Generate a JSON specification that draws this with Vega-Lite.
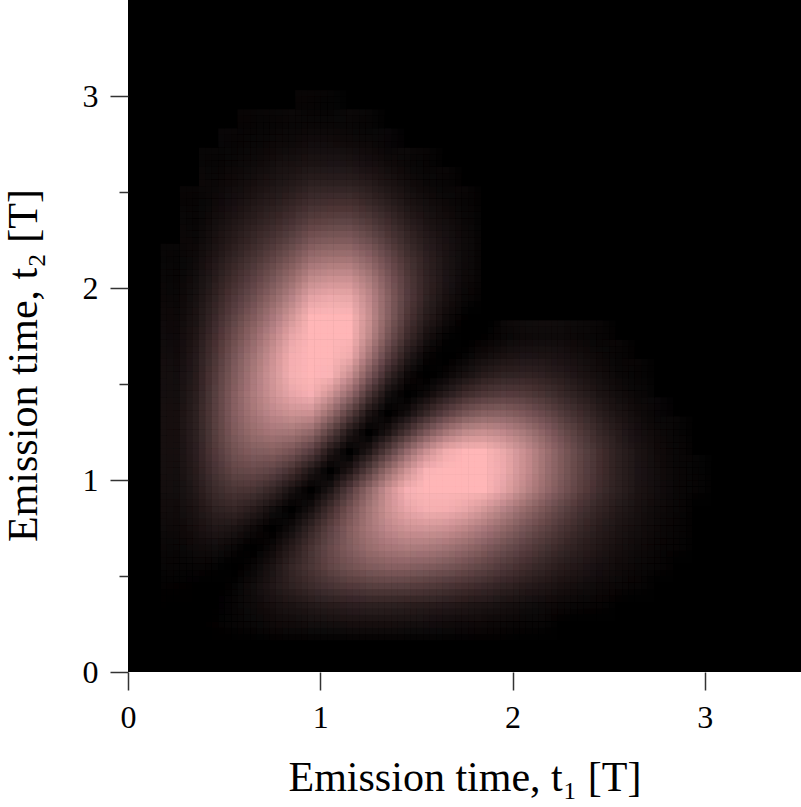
{
  "$schema": "https://vega.github.io/schema/vega-lite/v6.json",
  "width": 673,
  "height": 672,
  "autosize": "none",
  "padding": {"left": 128, "top": 0, "right": 0, "bottom": 135},
  "background": "white",
  "data": {
    "values": [
      {"t1":0.2,"t2":0.2,"p":0},{"t1":0.3,"t2":0.3,"p":0},{"t1":0.4,"t2":0.4,"p":0},{"t1":0.5,"t2":0.5,"p":0},{"t1":0.6,"t2":0.6,"p":0},{"t1":0.7,"t2":0.7,"p":0},{"t1":0.8,"t2":0.8,"p":0},{"t1":0.9,"t2":0.9,"p":0},{"t1":1.0,"t2":1.0,"p":0},{"t1":1.1,"t2":1.1,"p":0},{"t1":1.2,"t2":1.2,"p":0},{"t1":1.3,"t2":1.3,"p":0},{"t1":1.4,"t2":1.4,"p":0},{"t1":1.5,"t2":1.5,"p":0},{"t1":1.6,"t2":1.6,"p":0},{"t1":1.7,"t2":1.7,"p":0},{"t1":1.8,"t2":1.8,"p":0},
      {"t1":0.2,"t2":0.3,"p":0.006},{"t1":0.2,"t2":0.4,"p":0.016},{"t1":0.2,"t2":0.5,"p":0.027},{"t1":0.2,"t2":0.6,"p":0.039},{"t1":0.2,"t2":0.7,"p":0.051},{"t1":0.2,"t2":0.8,"p":0.061},{"t1":0.2,"t2":0.9,"p":0.070},{"t1":0.2,"t2":1.0,"p":0.076},{"t1":0.2,"t2":1.1,"p":0.079},{"t1":0.2,"t2":1.2,"p":0.080},{"t1":0.2,"t2":1.3,"p":0.078},{"t1":0.2,"t2":1.4,"p":0.074},{"t1":0.2,"t2":1.5,"p":0.069},{"t1":0.2,"t2":1.6,"p":0.062},{"t1":0.2,"t2":1.7,"p":0.055},{"t1":0.2,"t2":1.8,"p":0.047},{"t1":0.2,"t2":1.9,"p":0.040},{"t1":0.2,"t2":2.0,"p":0.033},{"t1":0.2,"t2":2.1,"p":0.027},
      {"t1":0.3,"t2":0.4,"p":0.012},{"t1":0.3,"t2":0.5,"p":0.032},{"t1":0.3,"t2":0.6,"p":0.057},{"t1":0.3,"t2":0.7,"p":0.082},{"t1":0.3,"t2":0.8,"p":0.107},{"t1":0.3,"t2":0.9,"p":0.128},{"t1":0.3,"t2":1.0,"p":0.144},{"t1":0.3,"t2":1.1,"p":0.155},{"t1":0.3,"t2":1.2,"p":0.160},{"t1":0.3,"t2":1.3,"p":0.159},{"t1":0.3,"t2":1.4,"p":0.153},{"t1":0.3,"t2":1.5,"p":0.143},{"t1":0.3,"t2":1.6,"p":0.131},{"t1":0.3,"t2":1.7,"p":0.116},{"t1":0.3,"t2":1.8,"p":0.100},{"t1":0.3,"t2":1.9,"p":0.085},{"t1":0.3,"t2":2.0,"p":0.070},{"t1":0.3,"t2":2.1,"p":0.057},{"t1":0.3,"t2":2.2,"p":0.045},{"t1":0.3,"t2":2.3,"p":0.035},{"t1":0.3,"t2":2.4,"p":0.026},
      {"t1":0.4,"t2":0.5,"p":0.024},{"t1":0.4,"t2":0.6,"p":0.066},{"t1":0.4,"t2":0.7,"p":0.117},{"t1":0.4,"t2":0.8,"p":0.168},{"t1":0.4,"t2":0.9,"p":0.215},{"t1":0.4,"t2":1.0,"p":0.256},{"t1":0.4,"t2":1.1,"p":0.286},{"t1":0.4,"t2":1.2,"p":0.304},{"t1":0.4,"t2":1.3,"p":0.310},{"t1":0.4,"t2":1.4,"p":0.304},{"t1":0.4,"t2":1.5,"p":0.289},{"t1":0.4,"t2":1.6,"p":0.266},{"t1":0.4,"t2":1.7,"p":0.238},{"t1":0.4,"t2":1.8,"p":0.207},{"t1":0.4,"t2":1.9,"p":0.175},{"t1":0.4,"t2":2.0,"p":0.145},{"t1":0.4,"t2":2.1,"p":0.117},{"t1":0.4,"t2":2.2,"p":0.092},{"t1":0.4,"t2":2.3,"p":0.071},{"t1":0.4,"t2":2.4,"p":0.053},{"t1":0.4,"t2":2.5,"p":0.040},{"t1":0.4,"t2":2.6,"p":0.028},
      {"t1":0.5,"t2":0.6,"p":0.039},{"t1":0.5,"t2":0.7,"p":0.107},{"t1":0.5,"t2":0.8,"p":0.187},{"t1":0.5,"t2":0.9,"p":0.267},{"t1":0.5,"t2":1.0,"p":0.342},{"t1":0.5,"t2":1.1,"p":0.402},{"t1":0.5,"t2":1.2,"p":0.444},{"t1":0.5,"t2":1.3,"p":0.466},{"t1":0.5,"t2":1.4,"p":0.468},{"t1":0.5,"t2":1.5,"p":0.453},{"t1":0.5,"t2":1.6,"p":0.422},{"t1":0.5,"t2":1.7,"p":0.381},{"t1":0.5,"t2":1.8,"p":0.334},{"t1":0.5,"t2":1.9,"p":0.284},{"t1":0.5,"t2":2.0,"p":0.235},{"t1":0.5,"t2":2.1,"p":0.189},{"t1":0.5,"t2":2.2,"p":0.149},{"t1":0.5,"t2":2.3,"p":0.113},{"t1":0.5,"t2":2.4,"p":0.084},{"t1":0.5,"t2":2.5,"p":0.062},{"t1":0.5,"t2":2.6,"p":0.044},{"t1":0.5,"t2":2.7,"p":0.031},
      {"t1":0.6,"t2":0.7,"p":0.054},{"t1":0.6,"t2":0.8,"p":0.146},{"t1":0.6,"t2":0.9,"p":0.254},{"t1":0.6,"t2":1.0,"p":0.361},{"t1":0.6,"t2":1.1,"p":0.456},{"t1":0.6,"t2":1.2,"p":0.530},{"t1":0.6,"t2":1.3,"p":0.579},{"t1":0.6,"t2":1.4,"p":0.599},{"t1":0.6,"t2":1.5,"p":0.592},{"t1":0.6,"t2":1.6,"p":0.562},{"t1":0.6,"t2":1.7,"p":0.514},{"t1":0.6,"t2":1.8,"p":0.454},{"t1":0.6,"t2":1.9,"p":0.388},{"t1":0.6,"t2":2.0,"p":0.322},{"t1":0.6,"t2":2.1,"p":0.259},{"t1":0.6,"t2":2.2,"p":0.202},{"t1":0.6,"t2":2.3,"p":0.154},{"t1":0.6,"t2":2.4,"p":0.114},{"t1":0.6,"t2":2.5,"p":0.082},{"t1":0.6,"t2":2.6,"p":0.057},{"t1":0.6,"t2":2.7,"p":0.039},{"t1":0.6,"t2":2.8,"p":0.026},
      {"t1":0.7,"t2":0.8,"p":0.070},{"t1":0.7,"t2":0.9,"p":0.190},{"t1":0.7,"t2":1.0,"p":0.327},{"t1":0.7,"t2":1.1,"p":0.463},{"t1":0.7,"t2":1.2,"p":0.579},{"t1":0.7,"t2":1.3,"p":0.666},{"t1":0.7,"t2":1.4,"p":0.717},{"t1":0.7,"t2":1.5,"p":0.729},{"t1":0.7,"t2":1.6,"p":0.708},{"t1":0.7,"t2":1.7,"p":0.658},{"t1":0.7,"t2":1.8,"p":0.588},{"t1":0.7,"t2":1.9,"p":0.506},{"t1":0.7,"t2":2.0,"p":0.421},{"t1":0.7,"t2":2.1,"p":0.339},{"t1":0.7,"t2":2.2,"p":0.264},{"t1":0.7,"t2":2.3,"p":0.200},{"t1":0.7,"t2":2.4,"p":0.146},{"t1":0.7,"t2":2.5,"p":0.104},{"t1":0.7,"t2":2.6,"p":0.072},{"t1":0.7,"t2":2.7,"p":0.048},{"t1":0.7,"t2":2.8,"p":0.032},
      {"t1":0.8,"t2":0.9,"p":0.086},{"t1":0.8,"t2":1.0,"p":0.239},{"t1":0.8,"t2":1.1,"p":0.411},{"t1":0.8,"t2":1.2,"p":0.574},{"t1":0.8,"t2":1.3,"p":0.711},{"t1":0.8,"t2":1.4,"p":0.808},{"t1":0.8,"t2":1.5,"p":0.854},{"t1":0.8,"t2":1.6,"p":0.853},{"t1":0.8,"t2":1.7,"p":0.811},{"t1":0.8,"t2":1.8,"p":0.734},{"t1":0.8,"t2":1.9,"p":0.640},{"t1":0.8,"t2":2.0,"p":0.535},{"t1":0.8,"t2":2.1,"p":0.431},{"t1":0.8,"t2":2.2,"p":0.336},{"t1":0.8,"t2":2.3,"p":0.252},{"t1":0.8,"t2":2.4,"p":0.183},{"t1":0.8,"t2":2.5,"p":0.129},{"t1":0.8,"t2":2.6,"p":0.088},{"t1":0.8,"t2":2.7,"p":0.058},{"t1":0.8,"t2":2.8,"p":0.037},
      {"t1":0.9,"t2":1.0,"p":0.111},{"t1":0.9,"t2":1.1,"p":0.299},{"t1":0.9,"t2":1.2,"p":0.509},{"t1":0.9,"t2":1.3,"p":0.706},{"t1":0.9,"t2":1.4,"p":0.863},{"t1":0.9,"t2":1.5,"p":0.963},{"t1":0.9,"t2":1.6,"p":1.0},{"t1":0.9,"t2":1.7,"p":0.976},{"t1":0.9,"t2":1.8,"p":0.904},{"t1":0.9,"t2":1.9,"p":0.798},{"t1":0.9,"t2":2.0,"p":0.672},{"t1":0.9,"t2":2.1,"p":0.544},{"t1":0.9,"t2":2.2,"p":0.423},{"t1":0.9,"t2":2.3,"p":0.317},{"t1":0.9,"t2":2.4,"p":0.228},{"t1":0.9,"t2":2.5,"p":0.158},{"t1":0.9,"t2":2.6,"p":0.106},{"t1":0.9,"t2":2.7,"p":0.069},{"t1":0.9,"t2":2.8,"p":0.043},{"t1":0.9,"t2":2.9,"p":0.026},
      {"t1":1.0,"t2":1.1,"p":0.116},{"t1":1.0,"t2":1.2,"p":0.312},{"t1":1.0,"t2":1.3,"p":0.529},{"t1":1.0,"t2":1.4,"p":0.724},{"t1":1.0,"t2":1.5,"p":0.871},{"t1":1.0,"t2":1.6,"p":0.954},{"t1":1.0,"t2":1.7,"p":0.967},{"t1":1.0,"t2":1.8,"p":0.921},{"t1":1.0,"t2":1.9,"p":0.827},{"t1":1.0,"t2":2.0,"p":0.706},{"t1":1.0,"t2":2.1,"p":0.575},{"t1":1.0,"t2":2.2,"p":0.446},{"t1":1.0,"t2":2.3,"p":0.330},{"t1":1.0,"t2":2.4,"p":0.237},{"t1":1.0,"t2":2.5,"p":0.159},{"t1":1.0,"t2":2.6,"p":0.108},{"t1":1.0,"t2":2.7,"p":0.068},{"t1":1.0,"t2":2.8,"p":0.041},{"t1":1.0,"t2":2.9,"p":0.024},
      {"t1":1.1,"t2":1.2,"p":0.118},{"t1":1.1,"t2":1.3,"p":0.314},{"t1":1.1,"t2":1.4,"p":0.526},{"t1":1.1,"t2":1.5,"p":0.709},{"t1":1.1,"t2":1.6,"p":0.837},{"t1":1.1,"t2":1.7,"p":0.896},{"t1":1.1,"t2":1.8,"p":0.887},{"t1":1.1,"t2":1.9,"p":0.816},{"t1":1.1,"t2":2.0,"p":0.709},{"t1":1.1,"t2":2.1,"p":0.581},{"t1":1.1,"t2":2.2,"p":0.453},{"t1":1.1,"t2":2.3,"p":0.336},{"t1":1.1,"t2":2.4,"p":0.239},{"t1":1.1,"t2":2.5,"p":0.159},{"t1":1.1,"t2":2.6,"p":0.104},{"t1":1.1,"t2":2.7,"p":0.064},{"t1":1.1,"t2":2.8,"p":0.038},
      {"t1":1.2,"t2":1.3,"p":0.100},{"t1":1.2,"t2":1.4,"p":0.265},{"t1":1.2,"t2":1.5,"p":0.438},{"t1":1.2,"t2":1.6,"p":0.581},{"t1":1.2,"t2":1.7,"p":0.672},{"t1":1.2,"t2":1.8,"p":0.700},{"t1":1.2,"t2":1.9,"p":0.670},{"t1":1.2,"t2":2.0,"p":0.595},{"t1":1.2,"t2":2.1,"p":0.495},{"t1":1.2,"t2":2.2,"p":0.388},{"t1":1.2,"t2":2.3,"p":0.287},{"t1":1.2,"t2":2.4,"p":0.201},{"t1":1.2,"t2":2.5,"p":0.134},{"t1":1.2,"t2":2.6,"p":0.084},{"t1":1.2,"t2":2.7,"p":0.051},{"t1":1.2,"t2":2.8,"p":0.029},
      {"t1":1.3,"t2":1.4,"p":0.076},{"t1":1.3,"t2":1.5,"p":0.199},{"t1":1.3,"t2":1.6,"p":0.323},{"t1":1.3,"t2":1.7,"p":0.420},{"t1":1.3,"t2":1.8,"p":0.472},{"t1":1.3,"t2":1.9,"p":0.476},{"t1":1.3,"t2":2.0,"p":0.438},{"t1":1.3,"t2":2.1,"p":0.372},{"t1":1.3,"t2":2.2,"p":0.295},{"t1":1.3,"t2":2.3,"p":0.218},{"t1":1.3,"t2":2.4,"p":0.152},{"t1":1.3,"t2":2.5,"p":0.099},{"t1":1.3,"t2":2.6,"p":0.061},{"t1":1.3,"t2":2.7,"p":0.036},
      {"t1":1.4,"t2":1.5,"p":0.053},{"t1":1.4,"t2":1.6,"p":0.136},{"t1":1.4,"t2":1.7,"p":0.217},{"t1":1.4,"t2":1.8,"p":0.275},{"t1":1.4,"t2":1.9,"p":0.300},{"t1":1.4,"t2":2.0,"p":0.290},{"t1":1.4,"t2":2.1,"p":0.254},{"t1":1.4,"t2":2.2,"p":0.205},{"t1":1.4,"t2":2.3,"p":0.152},{"t1":1.4,"t2":2.4,"p":0.105},{"t1":1.4,"t2":2.5,"p":0.068},{"t1":1.4,"t2":2.6,"p":0.041},
      {"t1":1.5,"t2":1.6,"p":0.035},{"t1":1.5,"t2":1.7,"p":0.090},{"t1":1.5,"t2":1.8,"p":0.140},{"t1":1.5,"t2":1.9,"p":0.172},{"t1":1.5,"t2":2.0,"p":0.179},{"t1":1.5,"t2":2.1,"p":0.165},{"t1":1.5,"t2":2.2,"p":0.137},{"t1":1.5,"t2":2.3,"p":0.103},{"t1":1.5,"t2":2.4,"p":0.071},{"t1":1.5,"t2":2.5,"p":0.045},{"t1":1.5,"t2":2.6,"p":0.026},
      {"t1":1.6,"t2":1.7,"p":0.024},{"t1":1.6,"t2":1.8,"p":0.061},{"t1":1.6,"t2":1.9,"p":0.092},{"t1":1.6,"t2":2.0,"p":0.108},{"t1":1.6,"t2":2.1,"p":0.107},{"t1":1.6,"t2":2.2,"p":0.093},{"t1":1.6,"t2":2.3,"p":0.071},{"t1":1.6,"t2":2.4,"p":0.049},{"t1":1.6,"t2":2.5,"p":0.031},
      {"t1":1.7,"t2":1.8,"p":0.015},{"t1":1.7,"t2":1.9,"p":0.037},{"t1":1.7,"t2":2.0,"p":0.054},{"t1":1.7,"t2":2.1,"p":0.060},{"t1":1.7,"t2":2.2,"p":0.056},{"t1":1.7,"t2":2.3,"p":0.044},{"t1":1.7,"t2":2.4,"p":0.031},
      {"t2":0.2,"t1":0.3,"p":0.006},{"t2":0.2,"t1":0.4,"p":0.016},{"t2":0.2,"t1":0.5,"p":0.027},{"t2":0.2,"t1":0.6,"p":0.039},{"t2":0.2,"t1":0.7,"p":0.051},{"t2":0.2,"t1":0.8,"p":0.061},{"t2":0.2,"t1":0.9,"p":0.070},{"t2":0.2,"t1":1.0,"p":0.076},{"t2":0.2,"t1":1.1,"p":0.079},{"t2":0.2,"t1":1.2,"p":0.080},{"t2":0.2,"t1":1.3,"p":0.078},{"t2":0.2,"t1":1.4,"p":0.074},{"t2":0.2,"t1":1.5,"p":0.069},{"t2":0.2,"t1":1.6,"p":0.062},{"t2":0.2,"t1":1.7,"p":0.055},{"t2":0.2,"t1":1.8,"p":0.047},{"t2":0.2,"t1":1.9,"p":0.040},{"t2":0.2,"t1":2.0,"p":0.033},{"t2":0.2,"t1":2.1,"p":0.027},
      {"t2":0.3,"t1":0.4,"p":0.012},{"t2":0.3,"t1":0.5,"p":0.032},{"t2":0.3,"t1":0.6,"p":0.057},{"t2":0.3,"t1":0.7,"p":0.082},{"t2":0.3,"t1":0.8,"p":0.107},{"t2":0.3,"t1":0.9,"p":0.128},{"t2":0.3,"t1":1.0,"p":0.144},{"t2":0.3,"t1":1.1,"p":0.155},{"t2":0.3,"t1":1.2,"p":0.160},{"t2":0.3,"t1":1.3,"p":0.159},{"t2":0.3,"t1":1.4,"p":0.153},{"t2":0.3,"t1":1.5,"p":0.143},{"t2":0.3,"t1":1.6,"p":0.131},{"t2":0.3,"t1":1.7,"p":0.116},{"t2":0.3,"t1":1.8,"p":0.100},{"t2":0.3,"t1":1.9,"p":0.085},{"t2":0.3,"t1":2.0,"p":0.070},{"t2":0.3,"t1":2.1,"p":0.057},{"t2":0.3,"t1":2.2,"p":0.045},{"t2":0.3,"t1":2.3,"p":0.035},{"t2":0.3,"t1":2.4,"p":0.026},
      {"t2":0.4,"t1":0.5,"p":0.024},{"t2":0.4,"t1":0.6,"p":0.066},{"t2":0.4,"t1":0.7,"p":0.117},{"t2":0.4,"t1":0.8,"p":0.168},{"t2":0.4,"t1":0.9,"p":0.215},{"t2":0.4,"t1":1.0,"p":0.256},{"t2":0.4,"t1":1.1,"p":0.286},{"t2":0.4,"t1":1.2,"p":0.304},{"t2":0.4,"t1":1.3,"p":0.310},{"t2":0.4,"t1":1.4,"p":0.304},{"t2":0.4,"t1":1.5,"p":0.289},{"t2":0.4,"t1":1.6,"p":0.266},{"t2":0.4,"t1":1.7,"p":0.238},{"t2":0.4,"t1":1.8,"p":0.207},{"t2":0.4,"t1":1.9,"p":0.175},{"t2":0.4,"t1":2.0,"p":0.145},{"t2":0.4,"t1":2.1,"p":0.117},{"t2":0.4,"t1":2.2,"p":0.092},{"t2":0.4,"t1":2.3,"p":0.071},{"t2":0.4,"t1":2.4,"p":0.053},{"t2":0.4,"t1":2.5,"p":0.040},{"t2":0.4,"t1":2.6,"p":0.028},
      {"t2":0.5,"t1":0.6,"p":0.039},{"t2":0.5,"t1":0.7,"p":0.107},{"t2":0.5,"t1":0.8,"p":0.187},{"t2":0.5,"t1":0.9,"p":0.267},{"t2":0.5,"t1":1.0,"p":0.342},{"t2":0.5,"t1":1.1,"p":0.402},{"t2":0.5,"t1":1.2,"p":0.444},{"t2":0.5,"t1":1.3,"p":0.466},{"t2":0.5,"t1":1.4,"p":0.468},{"t2":0.5,"t1":1.5,"p":0.453},{"t2":0.5,"t1":1.6,"p":0.422},{"t2":0.5,"t1":1.7,"p":0.381},{"t2":0.5,"t1":1.8,"p":0.334},{"t2":0.5,"t1":1.9,"p":0.284},{"t2":0.5,"t1":2.0,"p":0.235},{"t2":0.5,"t1":2.1,"p":0.189},{"t2":0.5,"t1":2.2,"p":0.149},{"t2":0.5,"t1":2.3,"p":0.113},{"t2":0.5,"t1":2.4,"p":0.084},{"t2":0.5,"t1":2.5,"p":0.062},{"t2":0.5,"t1":2.6,"p":0.044},{"t2":0.5,"t1":2.7,"p":0.031},
      {"t2":0.6,"t1":0.7,"p":0.054},{"t2":0.6,"t1":0.8,"p":0.146},{"t2":0.6,"t1":0.9,"p":0.254},{"t2":0.6,"t1":1.0,"p":0.361},{"t2":0.6,"t1":1.1,"p":0.456},{"t2":0.6,"t1":1.2,"p":0.530},{"t2":0.6,"t1":1.3,"p":0.579},{"t2":0.6,"t1":1.4,"p":0.599},{"t2":0.6,"t1":1.5,"p":0.592},{"t2":0.6,"t1":1.6,"p":0.562},{"t2":0.6,"t1":1.7,"p":0.514},{"t2":0.6,"t1":1.8,"p":0.454},{"t2":0.6,"t1":1.9,"p":0.388},{"t2":0.6,"t1":2.0,"p":0.322},{"t2":0.6,"t1":2.1,"p":0.259},{"t2":0.6,"t1":2.2,"p":0.202},{"t2":0.6,"t1":2.3,"p":0.154},{"t2":0.6,"t1":2.4,"p":0.114},{"t2":0.6,"t1":2.5,"p":0.082},{"t2":0.6,"t1":2.6,"p":0.057},{"t2":0.6,"t1":2.7,"p":0.039},{"t2":0.6,"t1":2.8,"p":0.026},
      {"t2":0.7,"t1":0.8,"p":0.070},{"t2":0.7,"t1":0.9,"p":0.190},{"t2":0.7,"t1":1.0,"p":0.327},{"t2":0.7,"t1":1.1,"p":0.463},{"t2":0.7,"t1":1.2,"p":0.579},{"t2":0.7,"t1":1.3,"p":0.666},{"t2":0.7,"t1":1.4,"p":0.717},{"t2":0.7,"t1":1.5,"p":0.729},{"t2":0.7,"t1":1.6,"p":0.708},{"t2":0.7,"t1":1.7,"p":0.658},{"t2":0.7,"t1":1.8,"p":0.588},{"t2":0.7,"t1":1.9,"p":0.506},{"t2":0.7,"t1":2.0,"p":0.421},{"t2":0.7,"t1":2.1,"p":0.339},{"t2":0.7,"t1":2.2,"p":0.264},{"t2":0.7,"t1":2.3,"p":0.200},{"t2":0.7,"t1":2.4,"p":0.146},{"t2":0.7,"t1":2.5,"p":0.104},{"t2":0.7,"t1":2.6,"p":0.072},{"t2":0.7,"t1":2.7,"p":0.048},{"t2":0.7,"t1":2.8,"p":0.032},
      {"t2":0.8,"t1":0.9,"p":0.086},{"t2":0.8,"t1":1.0,"p":0.239},{"t2":0.8,"t1":1.1,"p":0.411},{"t2":0.8,"t1":1.2,"p":0.574},{"t2":0.8,"t1":1.3,"p":0.711},{"t2":0.8,"t1":1.4,"p":0.808},{"t2":0.8,"t1":1.5,"p":0.854},{"t2":0.8,"t1":1.6,"p":0.853},{"t2":0.8,"t1":1.7,"p":0.811},{"t2":0.8,"t1":1.8,"p":0.734},{"t2":0.8,"t1":1.9,"p":0.640},{"t2":0.8,"t1":2.0,"p":0.535},{"t2":0.8,"t1":2.1,"p":0.431},{"t2":0.8,"t1":2.2,"p":0.336},{"t2":0.8,"t1":2.3,"p":0.252},{"t2":0.8,"t1":2.4,"p":0.183},{"t2":0.8,"t1":2.5,"p":0.129},{"t2":0.8,"t1":2.6,"p":0.088},{"t2":0.8,"t1":2.7,"p":0.058},{"t2":0.8,"t1":2.8,"p":0.037},
      {"t2":0.9,"t1":1.0,"p":0.111},{"t2":0.9,"t1":1.1,"p":0.299},{"t2":0.9,"t1":1.2,"p":0.509},{"t2":0.9,"t1":1.3,"p":0.706},{"t2":0.9,"t1":1.4,"p":0.863},{"t2":0.9,"t1":1.5,"p":0.963},{"t2":0.9,"t1":1.6,"p":1.0},{"t2":0.9,"t1":1.7,"p":0.976},{"t2":0.9,"t1":1.8,"p":0.904},{"t2":0.9,"t1":1.9,"p":0.798},{"t2":0.9,"t1":2.0,"p":0.672},{"t2":0.9,"t1":2.1,"p":0.544},{"t2":0.9,"t1":2.2,"p":0.423},{"t2":0.9,"t1":2.3,"p":0.317},{"t2":0.9,"t1":2.4,"p":0.228},{"t2":0.9,"t1":2.5,"p":0.158},{"t2":0.9,"t1":2.6,"p":0.106},{"t2":0.9,"t1":2.7,"p":0.069},{"t2":0.9,"t1":2.8,"p":0.043},{"t2":0.9,"t1":2.9,"p":0.026},
      {"t2":1.0,"t1":1.1,"p":0.116},{"t2":1.0,"t1":1.2,"p":0.312},{"t2":1.0,"t1":1.3,"p":0.529},{"t2":1.0,"t1":1.4,"p":0.724},{"t2":1.0,"t1":1.5,"p":0.871},{"t2":1.0,"t1":1.6,"p":0.954},{"t2":1.0,"t1":1.7,"p":0.967},{"t2":1.0,"t1":1.8,"p":0.921},{"t2":1.0,"t1":1.9,"p":0.827},{"t2":1.0,"t1":2.0,"p":0.706},{"t2":1.0,"t1":2.1,"p":0.575},{"t2":1.0,"t1":2.2,"p":0.446},{"t2":1.0,"t1":2.3,"p":0.330},{"t2":1.0,"t1":2.4,"p":0.237},{"t2":1.0,"t1":2.5,"p":0.159},{"t2":1.0,"t1":2.6,"p":0.108},{"t2":1.0,"t1":2.7,"p":0.068},{"t2":1.0,"t1":2.8,"p":0.041},{"t2":1.0,"t1":2.9,"p":0.024},
      {"t2":1.1,"t1":1.2,"p":0.118},{"t2":1.1,"t1":1.3,"p":0.314},{"t2":1.1,"t1":1.4,"p":0.526},{"t2":1.1,"t1":1.5,"p":0.709},{"t2":1.1,"t1":1.6,"p":0.837},{"t2":1.1,"t1":1.7,"p":0.896},{"t2":1.1,"t1":1.8,"p":0.887},{"t2":1.1,"t1":1.9,"p":0.816},{"t2":1.1,"t1":2.0,"p":0.709},{"t2":1.1,"t1":2.1,"p":0.581},{"t2":1.1,"t1":2.2,"p":0.453},{"t2":1.1,"t1":2.3,"p":0.336},{"t2":1.1,"t1":2.4,"p":0.239},{"t2":1.1,"t1":2.5,"p":0.159},{"t2":1.1,"t1":2.6,"p":0.104},{"t2":1.1,"t1":2.7,"p":0.064},{"t2":1.1,"t1":2.8,"p":0.038},
      {"t2":1.2,"t1":1.3,"p":0.100},{"t2":1.2,"t1":1.4,"p":0.265},{"t2":1.2,"t1":1.5,"p":0.438},{"t2":1.2,"t1":1.6,"p":0.581},{"t2":1.2,"t1":1.7,"p":0.672},{"t2":1.2,"t1":1.8,"p":0.700},{"t2":1.2,"t1":1.9,"p":0.670},{"t2":1.2,"t1":2.0,"p":0.595},{"t2":1.2,"t1":2.1,"p":0.495},{"t2":1.2,"t1":2.2,"p":0.388},{"t2":1.2,"t1":2.3,"p":0.287},{"t2":1.2,"t1":2.4,"p":0.201},{"t2":1.2,"t1":2.5,"p":0.134},{"t2":1.2,"t1":2.6,"p":0.084},{"t2":1.2,"t1":2.7,"p":0.051},{"t2":1.2,"t1":2.8,"p":0.029},
      {"t2":1.3,"t1":1.4,"p":0.076},{"t2":1.3,"t1":1.5,"p":0.199},{"t2":1.3,"t1":1.6,"p":0.323},{"t2":1.3,"t1":1.7,"p":0.420},{"t2":1.3,"t1":1.8,"p":0.472},{"t2":1.3,"t1":1.9,"p":0.476},{"t2":1.3,"t1":2.0,"p":0.438},{"t2":1.3,"t1":2.1,"p":0.372},{"t2":1.3,"t1":2.2,"p":0.295},{"t2":1.3,"t1":2.3,"p":0.218},{"t2":1.3,"t1":2.4,"p":0.152},{"t2":1.3,"t1":2.5,"p":0.099},{"t2":1.3,"t1":2.6,"p":0.061},{"t2":1.3,"t1":2.7,"p":0.036},
      {"t2":1.4,"t1":1.5,"p":0.053},{"t2":1.4,"t1":1.6,"p":0.136},{"t2":1.4,"t1":1.7,"p":0.217},{"t2":1.4,"t1":1.8,"p":0.275},{"t2":1.4,"t1":1.9,"p":0.300},{"t2":1.4,"t1":2.0,"p":0.290},{"t2":1.4,"t1":2.1,"p":0.254},{"t2":1.4,"t1":2.2,"p":0.205},{"t2":1.4,"t1":2.3,"p":0.152},{"t2":1.4,"t1":2.4,"p":0.105},{"t2":1.4,"t1":2.5,"p":0.068},{"t2":1.4,"t1":2.6,"p":0.041},
      {"t2":1.5,"t1":1.6,"p":0.035},{"t2":1.5,"t1":1.7,"p":0.090},{"t2":1.5,"t1":1.8,"p":0.140},{"t2":1.5,"t1":1.9,"p":0.172},{"t2":1.5,"t1":2.0,"p":0.179},{"t2":1.5,"t1":2.1,"p":0.165},{"t2":1.5,"t1":2.2,"p":0.137},{"t2":1.5,"t1":2.3,"p":0.103},{"t2":1.5,"t1":2.4,"p":0.071},{"t2":1.5,"t1":2.5,"p":0.045},{"t2":1.5,"t1":2.6,"p":0.026},
      {"t2":1.6,"t1":1.7,"p":0.024},{"t2":1.6,"t1":1.8,"p":0.061},{"t2":1.6,"t1":1.9,"p":0.092},{"t2":1.6,"t1":2.0,"p":0.108},{"t2":1.6,"t1":2.1,"p":0.107},{"t2":1.6,"t1":2.2,"p":0.093},{"t2":1.6,"t1":2.3,"p":0.071},{"t2":1.6,"t1":2.4,"p":0.049},{"t2":1.6,"t1":2.5,"p":0.031},
      {"t2":1.7,"t1":1.8,"p":0.015},{"t2":1.7,"t1":1.9,"p":0.037},{"t2":1.7,"t1":2.0,"p":0.054},{"t2":1.7,"t1":2.1,"p":0.060},{"t2":1.7,"t1":2.2,"p":0.056},{"t2":1.7,"t1":2.3,"p":0.044},{"t2":1.7,"t1":2.4,"p":0.031}
    ]
  },
  "encoding": {
    "x": {
      "field": "t1",
      "type": "quantitative",
      "bin": {"binned": true, "step": 0.1},
      "scale": {"domain": [0, 3.5], "nice": false, "zero": false},
      "axis": {
        "title": "Emission time, t₁ [T]",
        "values": [0, 1, 2, 3],
        "format": "d",
        "titleY": 118,
        "titleBaseline": "alphabetic"
      }
    },
    "y": {
      "field": "t2",
      "type": "quantitative",
      "bin": {"binned": true, "step": 0.1},
      "scale": {"domain": [0, 3.5], "nice": false, "zero": false},
      "axis": {
        "title": "Emission time, t₂ [T]",
        "values": [0, 0.5, 1, 1.5, 2, 2.5, 3],
        "labelExpr": "datum.value % 1 === 0 ? format(datum.value, 'd') : ''",
        "tickSize": {"condition": {"test": "datum.value % 1 === 0", "value": 18}, "value": 9},
        "titleAngle": 270,
        "titleX": -92,
        "titleY": 365,
        "titleBaseline": "alphabetic",
        "titleAlign": "center"
      }
    },
    "color": {
      "field": "p",
      "type": "quantitative",
      "scale": {"domain": [0, 0.88], "range": ["#000000", "#ffb7b9"], "interpolate": "rgb", "clamp": true},
      "legend": null
    }
  },
  "layer": [
    {"mark": {"type": "rect", "clip": true, "opacity": 1, "xOffset": -6.4, "x2Offset": -6.4, "yOffset": -6.4, "y2Offset": -6.4}},
    {"mark": {"type": "rect", "clip": true, "opacity": 0.5, "xOffset": 0, "x2Offset": 0, "yOffset": -6.4, "y2Offset": -6.4}},
    {"mark": {"type": "rect", "clip": true, "opacity": 0.3333, "xOffset": 6.4, "x2Offset": 6.4, "yOffset": -6.4, "y2Offset": -6.4}},
    {"mark": {"type": "rect", "clip": true, "opacity": 0.25, "xOffset": -6.4, "x2Offset": -6.4, "yOffset": 0, "y2Offset": 0}},
    {"mark": {"type": "rect", "clip": true, "opacity": 0.2, "xOffset": 0, "x2Offset": 0, "yOffset": 0, "y2Offset": 0}},
    {"mark": {"type": "rect", "clip": true, "opacity": 0.1667, "xOffset": 6.4, "x2Offset": 6.4, "yOffset": 0, "y2Offset": 0}},
    {"mark": {"type": "rect", "clip": true, "opacity": 0.1429, "xOffset": -6.4, "x2Offset": -6.4, "yOffset": 6.4, "y2Offset": 6.4}},
    {"mark": {"type": "rect", "clip": true, "opacity": 0.125, "xOffset": 0, "x2Offset": 0, "yOffset": 6.4, "y2Offset": 6.4}},
    {"mark": {"type": "rect", "clip": true, "opacity": 0.1111, "xOffset": 6.4, "x2Offset": 6.4, "yOffset": 6.4, "y2Offset": 6.4}}
  ],
  "config": {
    "view": {"fill": "#000000", "stroke": null},
    "axis": {
      "grid": false,
      "domain": false,
      "tickSize": 18,
      "tickWidth": 1.5,
      "tickColor": "#333333",
      "labelFont": "Liberation Serif",
      "labelFontSize": 32,
      "labelColor": "#000000",
      "labelPadding": 12,
      "labelFlush": false,
      "labelOverlap": false,
      "titleFont": "Liberation Serif",
      "titleFontSize": 42,
      "titleFontWeight": "normal",
      "titleColor": "#000000",
      "titlePadding": 0
    }
  }
}
